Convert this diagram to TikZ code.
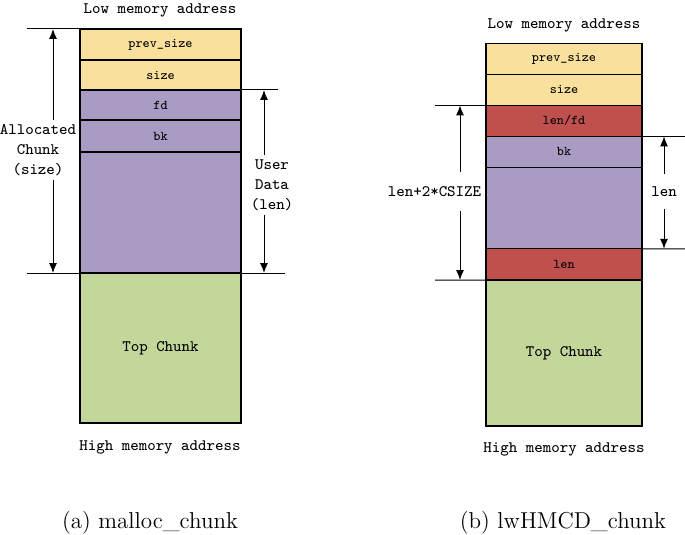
\documentclass[tikz,border=0pt]{standalone}
\usepackage{fontspec}
\usepackage{xcolor}
\usepackage{tikz}
\usetikzlibrary{arrows.meta, positioning}

\definecolor{hdryellow}{HTML}{F9E09C}
\definecolor{datapurple}{HTML}{A99BC4}
\definecolor{lenred}{HTML}{C0504D}
\definecolor{topgreen}{HTML}{C4D79B}

\begin{document}
\begin{tikzpicture}[
    node distance=0pt,
    cell/.style={rectangle, draw, line width=0.6pt, outer sep=0pt, inner sep=0pt, font=\fontsize{6.7}{8}\selectfont\ttfamily, fill=#1},
    lcell/.style={cell=#1, minimum width=80.5pt},
    rcell/.style={cell=#1, minimum width=78pt},
    label/.style={font=\fontsize{8}{10}\selectfont\ttfamily, align=center, inner sep=2pt},
    caption/.style={font=\fontsize{11.5}{14}\selectfont},
    dimline/.style={line width=0.5pt},
    dimarrow/.style={-{Latex[length=5pt, width=4pt]}, line width=0.5pt},
]
\useasboundingbox (0,0) rectangle (342.5pt,-267.5pt);

% (a) malloc_chunk
\node[label] (llow) at (80pt,-5pt) {Low memory address};
\node[lcell=hdryellow, minimum height=15.5pt, anchor=north west] (lprev) at (40pt,-14.5pt) {prev\_size};
\node[lcell=hdryellow, minimum height=15pt, below=of lprev] (lsize) {size};
\node[lcell=datapurple, minimum height=15pt, below=of lsize] (lfd) {fd};
\node[lcell=datapurple, minimum height=16pt, below=of lfd] (lbk) {bk};
\node[lcell=datapurple, minimum height=60.5pt, below=of lbk] (ldata) {};
\node[lcell=topgreen, minimum height=75pt, below=of ldata, font=\fontsize{8}{10}\selectfont\ttfamily] (ltop) {Top Chunk};
\node[label] (lhigh) at (80pt,-223.5pt) {High memory address};

\coordinate (latop) at (13.5pt,-14.5pt);
\coordinate (labot) at (13.5pt,-136.5pt);
\coordinate (lrtop) at (139pt,-45pt);
\coordinate (lrbot) at (142.5pt,-136.5pt);
\coordinate (lavtop) at (26.5pt,-14.5pt);
\coordinate (lavbot) at (26.5pt,-136.5pt);
\coordinate (luvtop) at (132pt,-45pt);
\coordinate (luvbot) at (132pt,-136.5pt);

\draw[dimline] (latop) -- (lprev.north west);
\draw[dimline] (labot) -- (lrbot);
\draw[dimline] (lsize.south east) -- (lrtop);

\node[label] (lalloc) at (19pt,-75pt) {Allocated\\Chunk\\(size)};
\node[label] (luser) at (136pt,-92.5pt) {User\\Data\\(len)};
\draw[dimarrow] (lalloc.north -| lavtop) -- (lavtop);
\draw[dimarrow] (lalloc.south -| lavbot) -- (lavbot);
\draw[dimarrow] (luser.north -| luvtop) -- (luvtop);
\draw[dimarrow] (luser.south -| luvbot) -- (luvbot);

\node[caption] (capa) at (75pt,-261.5pt) {(a) malloc\_chunk};

% (b) lwHMCD_chunk
\node[label] (rlow) at (282pt,-12.85pt) {Low memory address};
\node[rcell=hdryellow, minimum height=15.5pt, anchor=north west] (rprev) at (243pt,-21.7pt) {prev\_size};
\node[rcell=hdryellow, minimum height=15.5pt, below=of rprev] (rsize) {size};
\node[rcell=lenred, minimum height=15.5pt, below=of rsize] (rlenfd) {len/fd};
\node[rcell=datapurple, minimum height=15.5pt, below=of rlenfd] (rbk) {bk};
\node[rcell=datapurple, minimum height=40.7pt, below=of rbk] (rdata) {};
\node[rcell=lenred, minimum height=15.6pt, below=of rdata] (rlen) {len};
\node[rcell=topgreen, minimum height=73pt, below=of rlen, font=\fontsize{8}{10}\selectfont\ttfamily] (rtop) {Top Chunk};
\node[label] (rhigh) at (282pt,-224.5pt) {High memory address};

\coordinate (rlatop) at (217.5pt,-52.7pt);
\coordinate (rlabot) at (217.5pt,-140pt);
\coordinate (rrtop) at (342.5pt,-68.2pt);
\coordinate (rrbot) at (342.5pt,-124.4pt);
\coordinate (ravtop) at (230pt,-52.7pt);
\coordinate (ravbot) at (230pt,-140pt);
\coordinate (rlvtop) at (332pt,-68.2pt);
\coordinate (rlvbot) at (332pt,-124.4pt);

\draw[dimline] (rlatop) -- (rsize.south west);
\draw[dimline] (rlabot) -- (rlen.south west);
\draw[dimline] (rlenfd.south east) -- (rrtop);
\draw[dimline] (rdata.south east) -- (rrbot);

\node[label, inner ysep=7pt] (rtotal) at (217.25pt,-95.8pt) {len+2*CSIZE};
\node[label, inner ysep=6pt] (rlenlbl) at (332pt,-95.75pt) {len};
\draw[dimarrow] (rtotal.north -| ravtop) -- (ravtop);
\draw[dimarrow] (rtotal.south -| ravbot) -- (ravbot);
\draw[dimarrow] (rlenlbl.north -| rlvtop) -- (rlvtop);
\draw[dimarrow] (rlenlbl.south -| rlvbot) -- (rlvbot);

\node[caption] (capb) at (281.5pt,-261.5pt) {(b) lwHMCD\_chunk};

\end{tikzpicture}
\end{document}
